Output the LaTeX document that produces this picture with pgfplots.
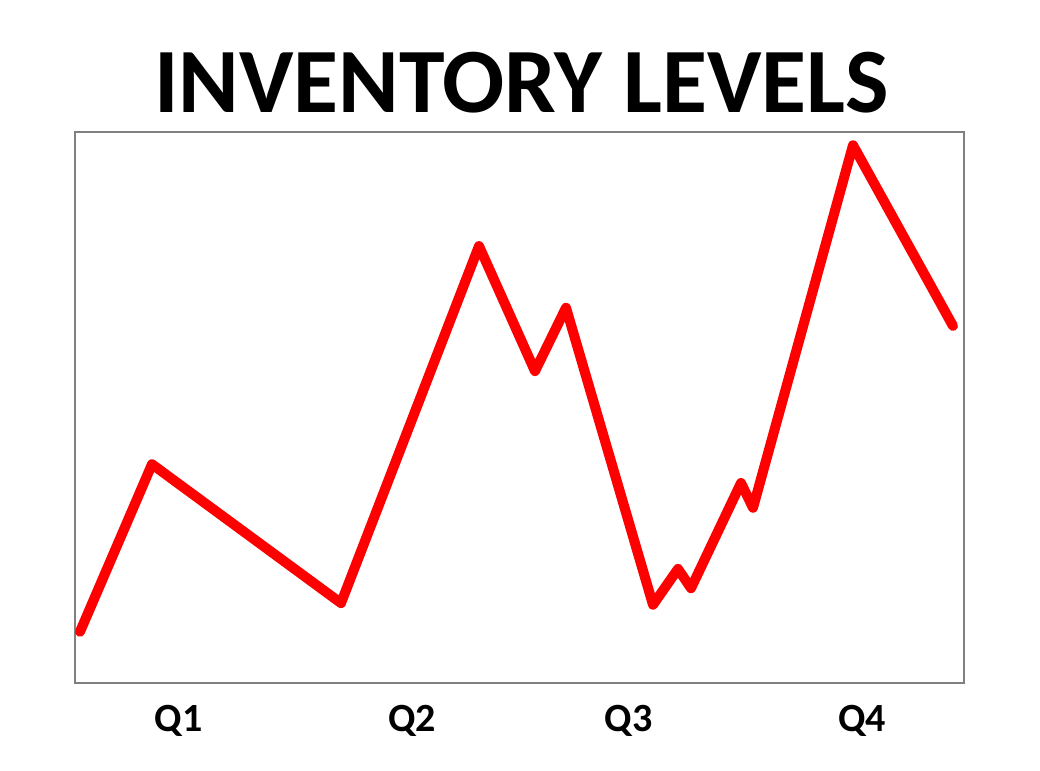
\documentclass[border=0pt]{standalone}
\usepackage{fontspec}
\setmainfont{Carlito}
\usepackage{pgfplots}
\pgfplotsset{compat=1.18}

\begin{document}
\begin{tikzpicture}
% page frame: 1040x771 px at 0.5pt per px
\path[use as bounding box] (-37.5pt,-44pt) rectangle (482.5pt,341.5pt);
\begin{axis}[
  scale only axis,
  width=444.5pt,
  height=275.5pt,
  at={(0,0)},
  anchor=south west,
  xmin=75, xmax=964,
  ymin=0, ymax=100,
  axis line style={draw=black!50, line width=1pt},
  xtick={178.5,412,628.5,862},
  xticklabels={Q1,Q2,Q3,Q4},
  ytick=\empty,
  major tick length=0pt,
  xticklabel style={font=\bfseries\fontsize{20}{24}\selectfont, anchor=base, yshift=-24.5pt},
  clip=false,
]
\addplot[red, line width=5pt, line join=round, line cap=round] coordinates {
  (80,9.3) (152,39.7) (341,14.5) (479,79.3) (535,56.6) (566,68.1)
  (653,14.2) (678,20.7) (691,17.2) (741,36.3) (753,31.8) (853,97.6) (953,64.8)
};
\node[anchor=base, font=\bfseries\fontsize{46}{55}\selectfont, inner sep=0pt]
  at (rel axis cs:0.5,1) [yshift=9.5pt, xshift=1pt] {INVENTORY LEVELS};
\end{axis}
\end{tikzpicture}
\end{document}
